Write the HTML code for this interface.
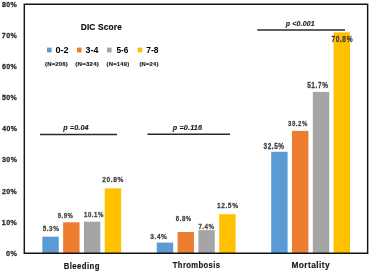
<!DOCTYPE html>
<html><head><meta charset="utf-8"><style>
html,body{margin:0;padding:0;background:#fff;width:370px;height:272px;overflow:hidden}
svg{display:block;font-family:"Liberation Sans",sans-serif;will-change:transform;filter:blur(0.3px)}
</style></head><body>
<svg width="370" height="272" viewBox="0 0 370 272">
<rect width="370" height="272" fill="#fff"/>
<rect x="42.35" y="236.66" width="16.40" height="16.34" fill="#5B9BD5"/>
<rect x="63.15" y="222.31" width="16.40" height="30.69" fill="#ED7D31"/>
<rect x="83.95" y="221.69" width="16.40" height="31.31" fill="#A5A5A5"/>
<rect x="104.75" y="188.30" width="16.40" height="64.70" fill="#FFC000"/>
<rect x="156.78" y="242.59" width="16.40" height="10.41" fill="#5B9BD5"/>
<rect x="177.58" y="231.98" width="16.40" height="21.02" fill="#ED7D31"/>
<rect x="198.38" y="230.11" width="16.40" height="22.89" fill="#A5A5A5"/>
<rect x="219.18" y="214.20" width="16.40" height="38.80" fill="#FFC000"/>
<rect x="271.21" y="151.80" width="16.40" height="101.20" fill="#5B9BD5"/>
<rect x="292.01" y="130.90" width="16.40" height="122.10" fill="#ED7D31"/>
<rect x="312.81" y="91.90" width="16.40" height="161.10" fill="#A5A5A5"/>
<rect x="333.61" y="32.30" width="16.40" height="220.70" fill="#FFC000"/>
<rect x="47.00" y="47.6" width="4.6" height="4.8" fill="#5B9BD5"/>
<rect x="77.00" y="47.6" width="4.6" height="4.8" fill="#ED7D31"/>
<rect x="107.00" y="47.6" width="4.6" height="4.8" fill="#A5A5A5"/>
<rect x="137.60" y="47.6" width="4.6" height="4.8" fill="#FFC000"/>
<line x1="40.00" y1="134.50" x2="117.00" y2="134.50" stroke="#2a2a2a" stroke-width="1.4"/>
<line x1="147.40" y1="134.20" x2="230.00" y2="134.20" stroke="#2a2a2a" stroke-width="1.4"/>
<line x1="257.20" y1="29.95" x2="345.00" y2="29.95" stroke="#2a2a2a" stroke-width="1.4"/>
<path d="M24.3 253.2 V4.2 H367.65 V253.2 Z" fill="none" stroke="#141414" stroke-width="1.45"/>
<text transform="matrix(0.7238 0 0 0.7526 6.044 255.862)" x="0" y="0" font-size="10.0" font-weight="bold" font-style="normal" fill="#262626" stroke="#262626" stroke-width="0.35" letter-spacing="0.6">0%</text>
<text transform="matrix(0.7080 0 0 0.7526 1.820 224.722)" x="0" y="0" font-size="10.0" font-weight="bold" font-style="normal" fill="#262626" stroke="#262626" stroke-width="0.35" letter-spacing="0.6">10%</text>
<text transform="matrix(0.7012 0 0 0.7526 1.962 193.582)" x="0" y="0" font-size="10.0" font-weight="bold" font-style="normal" fill="#262626" stroke="#262626" stroke-width="0.35" letter-spacing="0.6">20%</text>
<text transform="matrix(0.6971 0 0 0.7526 2.050 162.442)" x="0" y="0" font-size="10.0" font-weight="bold" font-style="normal" fill="#262626" stroke="#262626" stroke-width="0.35" letter-spacing="0.6">30%</text>
<text transform="matrix(0.6912 0 0 0.7526 2.174 131.302)" x="0" y="0" font-size="10.0" font-weight="bold" font-style="normal" fill="#262626" stroke="#262626" stroke-width="0.35" letter-spacing="0.6">40%</text>
<text transform="matrix(0.7012 0 0 0.7526 1.962 100.163)" x="0" y="0" font-size="10.0" font-weight="bold" font-style="normal" fill="#262626" stroke="#262626" stroke-width="0.35" letter-spacing="0.6">50%</text>
<text transform="matrix(0.6995 0 0 0.7526 1.999 69.023)" x="0" y="0" font-size="10.0" font-weight="bold" font-style="normal" fill="#262626" stroke="#262626" stroke-width="0.35" letter-spacing="0.6">60%</text>
<text transform="matrix(0.7054 0 0 0.7526 1.874 37.883)" x="0" y="0" font-size="10.0" font-weight="bold" font-style="normal" fill="#262626" stroke="#262626" stroke-width="0.35" letter-spacing="0.6">70%</text>
<text transform="matrix(0.7012 0 0 0.7526 1.962 6.867)" x="0" y="0" font-size="10.0" font-weight="bold" font-style="normal" fill="#262626" stroke="#262626" stroke-width="0.35" letter-spacing="0.6">80%</text>
<text transform="matrix(0.8330 0 0 0.9966 80.704 30.375)" x="0" y="0" font-size="10.0" font-weight="bold" font-style="normal" fill="#111111" stroke="#111111" stroke-width="0.2" letter-spacing="0.2">DIC Score</text>
<text transform="matrix(0.9183 0 0 0.9440 55.430 53.158)" x="0" y="0" font-size="10.0" font-weight="bold" font-style="normal" fill="#000000">0-2</text>
<text transform="matrix(0.8850 0 0 0.9440 85.554 53.158)" x="0" y="0" font-size="10.0" font-weight="bold" font-style="normal" fill="#000000">3-4</text>
<text transform="matrix(0.8364 0 0 0.9440 116.411 53.158)" x="0" y="0" font-size="10.0" font-weight="bold" font-style="normal" fill="#000000">5-6</text>
<text transform="matrix(0.8528 0 0 0.9440 146.230 53.158)" x="0" y="0" font-size="10.0" font-weight="bold" font-style="normal" fill="#000000">7-8</text>
<text transform="matrix(0.6000 0 0 0.5820 44.950 65.792)" x="0" y="0" font-size="10.0" font-weight="bold" font-style="normal" fill="#262626" stroke="#262626" stroke-width="0.3" letter-spacing="0.3">(N=206)</text>
<text transform="matrix(0.6167 0 0 0.5949 75.269 65.887)" x="0" y="0" font-size="10.0" font-weight="bold" font-style="normal" fill="#262626" stroke="#262626" stroke-width="0.3" letter-spacing="0.3">(N=324)</text>
<text transform="matrix(0.5960 0 0 0.6001 106.551 65.876)" x="0" y="0" font-size="10.0" font-weight="bold" font-style="normal" fill="#262626" stroke="#262626" stroke-width="0.3" letter-spacing="0.3">(N=149)</text>
<text transform="matrix(0.5882 0 0 0.6001 139.454 65.876)" x="0" y="0" font-size="10.0" font-weight="bold" font-style="normal" fill="#262626" stroke="#262626" stroke-width="0.3" letter-spacing="0.3">(N=24)</text>
<text transform="matrix(0.7179 0 0 0.7218 63.143 130.367)" x="0" y="0" font-size="10.0" font-weight="bold" font-style="italic" fill="#1a1a1a" stroke="#1a1a1a" stroke-width="0.2" letter-spacing="0.2">p =0.04</text>
<text transform="matrix(0.7205 0 0 0.7218 172.820 129.692)" x="0" y="0" font-size="10.0" font-weight="bold" font-style="italic" fill="#1a1a1a" stroke="#1a1a1a" stroke-width="0.2" letter-spacing="0.2">p =0.116</text>
<text transform="matrix(0.7027 0 0 0.6785 285.764 26.058)" x="0" y="0" font-size="10.0" font-weight="bold" font-style="italic" fill="#1a1a1a" stroke="#1a1a1a" stroke-width="0.2" letter-spacing="0.2">p &lt;0.001</text>
<text transform="matrix(0.6337 0 0 0.7526 42.696 231.312)" x="0" y="0" font-size="10.0" font-weight="bold" font-style="normal" fill="#404040" stroke="#404040" stroke-width="0.35" letter-spacing="0.9">5.3%</text>
<text transform="matrix(0.5941 0 0 0.7458 57.751 217.539)" x="0" y="0" font-size="10.0" font-weight="bold" font-style="normal" fill="#404040" stroke="#404040" stroke-width="0.35" letter-spacing="0.9">9.9%</text>
<text transform="matrix(0.6096 0 0 0.7526 83.970 216.587)" x="0" y="0" font-size="10.0" font-weight="bold" font-style="normal" fill="#404040" stroke="#404040" stroke-width="0.35" letter-spacing="0.9">10.1%</text>
<text transform="matrix(0.6583 0 0 0.7458 102.243 182.264)" x="0" y="0" font-size="10.0" font-weight="bold" font-style="normal" fill="#404040" stroke="#404040" stroke-width="0.35" letter-spacing="0.9">20.8%</text>
<text transform="matrix(0.6483 0 0 0.7832 150.325 239.354)" x="0" y="0" font-size="10.0" font-weight="bold" font-style="normal" fill="#404040" stroke="#404040" stroke-width="0.35" letter-spacing="0.9">3.4%</text>
<text transform="matrix(0.6100 0 0 0.7390 175.747 220.716)" x="0" y="0" font-size="10.0" font-weight="bold" font-style="normal" fill="#404040" stroke="#404040" stroke-width="0.35" letter-spacing="0.9">6.8%</text>
<text transform="matrix(0.6149 0 0 0.8002 198.396 228.701)" x="0" y="0" font-size="10.0" font-weight="bold" font-style="normal" fill="#404040" stroke="#404040" stroke-width="0.35" letter-spacing="0.9">7.4%</text>
<text transform="matrix(0.6622 0 0 0.7595 216.894 208.086)" x="0" y="0" font-size="10.0" font-weight="bold" font-style="normal" fill="#404040" stroke="#404040" stroke-width="0.35" letter-spacing="0.9">12.5%</text>
<text transform="matrix(0.6416 0 0 0.8136 263.550 148.622)" x="0" y="0" font-size="10.0" font-weight="bold" font-style="normal" fill="#404040" stroke="#404040" stroke-width="0.35" letter-spacing="0.9">32.5%</text>
<text transform="matrix(0.6031 0 0 0.7595 288.000 126.411)" x="0" y="0" font-size="10.0" font-weight="bold" font-style="normal" fill="#404040" stroke="#404040" stroke-width="0.35" letter-spacing="0.9">39.2%</text>
<text transform="matrix(0.6543 0 0 0.8136 307.143 87.797)" x="0" y="0" font-size="10.0" font-weight="bold" font-style="normal" fill="#404040" stroke="#404040" stroke-width="0.35" letter-spacing="0.9">51.7%</text>
<text transform="matrix(0.6625 0 0 0.8136 331.384 42.297)" x="0" y="0" font-size="10.0" font-weight="bold" font-style="normal" fill="#404040" stroke="#404040" stroke-width="0.35" letter-spacing="0.9">70.8%</text>
<text transform="matrix(0.7815 0 0 0.8728 63.736 268.663)" x="0" y="0" font-size="10.0" font-weight="bold" font-style="normal" fill="#1a1a1a" stroke="#1a1a1a" stroke-width="0.2" letter-spacing="0.5">Bleeding</text>
<text transform="matrix(0.7633 0 0 0.8968 172.825 268.438)" x="0" y="0" font-size="10.0" font-weight="bold" font-style="normal" fill="#1a1a1a" stroke="#1a1a1a" stroke-width="0.2" letter-spacing="0.5">Thrombosis</text>
<text transform="matrix(0.8349 0 0 0.8317 291.478 267.782)" x="0" y="0" font-size="10.0" font-weight="bold" font-style="normal" fill="#1a1a1a" stroke="#1a1a1a" stroke-width="0.2" letter-spacing="0.5">Mortality</text>
</svg>
</body></html>
